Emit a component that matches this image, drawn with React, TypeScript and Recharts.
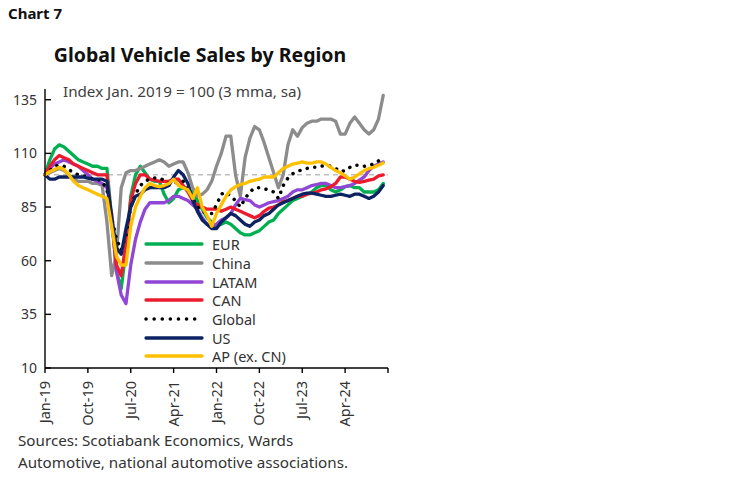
import { LineChart, Line, XAxis, YAxis, ReferenceLine } from 'recharts';

// monthly index values, Jan-19 .. Dec-24 (Jan. 2019 = 100, 3 mma, sa)
const eur = [100, 107, 112, 114, 113, 111, 109, 107, 106, 105, 104, 104, 103, 103, 80, 55, 47, 65, 90, 100, 104, 101, 98, 97, 97, 91, 87, 89, 93, 94, 93, 92, 88, 84, 80, 78, 76, 77, 78, 77, 75, 73, 72, 72, 73, 74, 76, 78, 79, 82, 84, 86, 88, 89, 90, 91, 92, 94, 95, 95, 93, 92, 93, 94.5, 95, 94, 94, 92, 92, 92, 93, 96];
const china = [100, 101, 102, 103, 102, 100, 98, 97, 97, 97, 96, 96, 95, 78, 53, 63, 94, 101, 102, 102, 103, 104, 105, 106, 107, 106, 104, 105, 106, 106, 101, 94, 90, 91, 93, 97, 104, 110, 118, 118, 100, 90, 108, 117, 122.5, 121, 115, 108, 101, 94, 100, 114, 121, 118, 122, 124, 125, 125, 126, 126, 126, 125, 119, 119, 124, 127, 124, 121, 119, 121, 126, 137];
const latam = [100, 103, 105, 106, 107, 106, 105, 104, 102, 100, 98, 97, 96, 94, 82, 55, 44, 40, 58, 70, 78, 84, 87, 87, 87, 87, 88, 90, 90, 89, 88, 86, 84, 80, 77, 76, 77, 79, 80, 82, 86, 89, 88.5, 88, 86, 85, 86, 87, 87.5, 88, 89, 90, 92, 93, 93, 94, 95, 95.5, 96, 96, 95, 94, 94, 94.5, 95, 96, 97.5, 99, 102, 104, 105, 106];
const can = [100, 104, 107, 109, 108, 107, 105, 104, 103, 102, 101, 100, 100, 100, 78, 58, 53, 68, 88, 96, 100, 100, 98, 97.5, 97, 97, 97, 98, 98, 95, 92, 88, 86, 85, 84, 84, 84, 83, 84, 85, 84, 83, 82, 81, 80, 81, 83, 84.5, 85, 86, 87.5, 88, 89, 90, 90, 91, 91.5, 92, 93, 93.5, 94.5, 96, 99, 99, 98, 97, 96.5, 97, 97.5, 98, 99.5, 100];
const globalIdx = [100, 102, 104, 104.5, 104, 102.5, 101, 100, 99.5, 99, 98, 98, 97, 93, 80, 70, 65, 72, 85, 91, 95, 97, 98, 98.5, 98.5, 97.5, 96, 96, 97, 97, 93, 89, 85, 83, 82, 82, 86, 91, 92, 90, 88, 85, 89, 92, 94, 94, 93.5, 93, 92, 89, 95, 98.5, 100.5, 101.5, 102.5, 103, 103.5, 103.5, 104, 104.5, 104, 103, 101.5, 102, 103.5, 104.5, 104.5, 104, 104.5, 105, 106.5, 107];
const us = [100, 98, 98, 99, 99, 99, 99, 99, 99, 98.5, 98, 98, 98, 97, 80, 66, 63, 75, 85, 90, 91, 93, 94, 94, 94, 94, 95, 99, 102, 100, 96, 88, 83, 79, 77, 75, 75, 78, 80, 82, 81, 79, 77, 76, 78, 79, 81, 82, 84, 86, 87, 88, 89, 90, 91, 91.5, 91.5, 91, 90.5, 90, 90, 90.5, 91, 90.5, 90, 91, 91, 90, 89, 90, 92, 95];
const ap = [100, 101.5, 102.5, 103.5, 102.5, 100, 97, 95, 94, 93, 92, 91, 90, 89, 76, 62, 58, 58, 76, 85, 90, 94, 96, 95, 94.5, 95, 96, 98, 95, 94, 93, 89, 94, 85, 81, 76, 82, 86, 90, 93, 94.5, 95.5, 96, 97, 97.5, 98, 99, 99, 99, 101, 103, 104, 105, 105.5, 106, 105.5, 105.5, 106, 106, 105, 103.5, 102, 101, 99.5, 98, 99, 100.5, 102, 103, 103.5, 104.5, 105.5];

const tickMonths = [0, 9, 18, 27, 36, 45, 54, 63, 72];
const tickLabels = ['Jan-19', 'Oct-19', 'Jul-20', 'Apr-21', 'Jan-22', 'Oct-22', 'Jul-23', 'Apr-24', ''];
const yTicks = [10, 35, 60, 85, 110, 135];

const FONT = '"Noto Sans", "Open Sans", sans-serif';

const series = [
  { key: 'eur', name: 'EUR', color: '#00b050', values: eur },
  { key: 'china', name: 'China', color: '#8c8c8c', values: china },
  { key: 'latam', name: 'LATAM', color: '#9146d6', values: latam },
  { key: 'can', name: 'CAN', color: '#ec1c2e', values: can },
  { key: 'global', name: 'Global', color: '#000000', values: globalIdx, dotted: true },
  { key: 'us', name: 'US', color: '#0b2263', values: us },
  { key: 'ap', name: 'AP (ex. CN)', color: '#ffc000', values: ap },
];

const chartData = eur.map((_, i) => {
  const row: Record<string, number> = { i };
  series.forEach((s) => {
    row[s.key] = s.values[i];
  });
  return row;
});

const XTick = (props: any) => {
  const { x, y, payload } = props;
  const label = tickLabels[tickMonths.indexOf(payload.value)] ?? '';
  return (
    <text
      x={x}
      y={y}
      transform={`rotate(-90, ${x}, ${y})`}
      textAnchor="end"
      dy="0.35em"
      fontSize={14.5}
      fontFamily={FONT}
      fill="#333"
    >
      {label}
    </text>
  );
};

const ChartLegend = () => (
  <div style={{ position: 'absolute', left: 143, top: 235, fontFamily: FONT, fontSize: 14.5, color: '#333' }}>
    {series.map((s) => (
      <div key={s.key} style={{ display: 'flex', alignItems: 'center', height: 18.7 }}>
        <svg width={62} height={8}>
          <line
            x1={3}
            y1={4}
            x2={59}
            y2={4}
            stroke={s.color}
            strokeWidth={s.dotted ? 3.5 : 3.3}
            strokeDasharray={s.dotted ? '0.1 8' : undefined}
            strokeLinecap="round"
          />
        </svg>
        <span style={{ marginLeft: 7 }}>{s.name}</span>
      </div>
    ))}
  </div>
);

export default function App() {
  return (
    <div style={{ position: 'absolute', left: 0, top: 0, width: 748, height: 483, background: '#fff', fontFamily: FONT }}>
      <div style={{ position: 'absolute', left: 8, top: 3, fontSize: 15, fontWeight: 700, color: '#111' }}>Chart 7</div>
      <div style={{ position: 'absolute', left: 0, width: 400, top: 41, textAlign: 'center', fontSize: 19.5, fontWeight: 700, color: '#111' }}>
        Global Vehicle Sales by Region
      </div>
      <div style={{ position: 'absolute', left: 63, top: 81, fontSize: 15.2, color: '#404040' }}>
        Index Jan. 2019 = 100 (3 mma, sa)
      </div>
      <div style={{ position: 'absolute', left: 18, top: 429, fontSize: 15.2, lineHeight: '22px', color: '#333' }}>
        Sources: Scotiabank Economics, Wards
        <br />
        Automotive, national automotive associations.
      </div>
      <LineChart
        width={748}
        height={483}
        data={chartData}
        margin={{ top: 89, right: 360, bottom: 75, left: 0 }}
        style={{ position: 'absolute', left: 0, top: 0 }}
      >
        <XAxis
          dataKey="i"
          type="number"
          domain={[0, 72]}
          ticks={tickMonths}
          interval={0}
          tick={<XTick />}
          tickSize={5}
          tickMargin={8}
          height={40}
          axisLine={{ stroke: '#000', strokeWidth: 1.4 }}
          tickLine={{ stroke: '#000', strokeWidth: 1.4 }}
        />
        <YAxis
          type="number"
          domain={[10, 140]}
          ticks={yTicks}
          interval={0}
          width={45}
          tickSize={-6}
          tickMargin={14}
          tick={{ fontSize: 14, fontFamily: FONT, fill: '#333' }}
          axisLine={{ stroke: '#000', strokeWidth: 1.4 }}
          tickLine={{ stroke: '#000', strokeWidth: 1.4 }}
        />
        <ReferenceLine y={100} stroke="#bdbdbd" strokeWidth={1.5} strokeDasharray="5 4" />
        {series.map((s) => (
          <Line
            key={s.key}
            dataKey={s.key}
            name={s.name}
            type="linear"
            stroke={s.color}
            strokeWidth={s.dotted ? 3.5 : 3.3}
            strokeDasharray={s.dotted ? '0.1 7.5' : undefined}
            strokeLinecap="round"
            strokeLinejoin="round"
            dot={false}
            activeDot={false}
            isAnimationActive={false}
          />
        ))}
      </LineChart>
      <ChartLegend />
    </div>
  );
}
